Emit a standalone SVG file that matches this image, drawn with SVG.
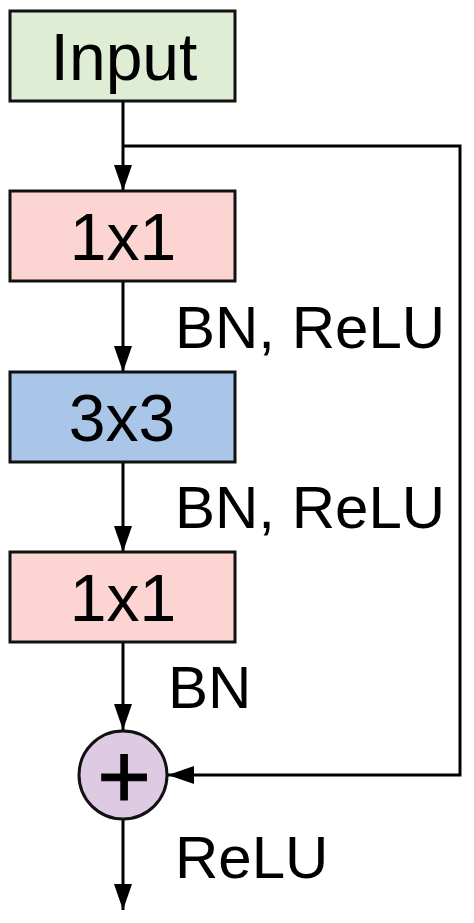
<svg xmlns="http://www.w3.org/2000/svg" width="474" height="923" viewBox="0 0 474 923">
<defs>
<marker id="ah" markerUnits="userSpaceOnUse" markerWidth="26" markerHeight="18" refX="26" refY="9" viewBox="0 0 26 18" orient="auto">
<path d="M0,0 L26,9 L0,18 Z" fill="#000"/>
</marker>
<style>
.box{stroke:#111;stroke-width:3}
.t{font-family:"Liberation Sans",Arial,sans-serif;fill:#000}
.big{font-size:66px;text-anchor:middle}
.lbl{font-size:60px}
.c{fill:none;stroke:#000;stroke-width:3}
</style>
</defs>
<rect width="474" height="923" fill="#fff"/>
<g id="connectors">
<line class="c" x1="123" y1="101" x2="123" y2="191" marker-end="url(#ah)"/>
<polyline class="c" points="123,146 460,146 460,775 168,775" marker-end="url(#ah)"/>
<line class="c" x1="123" y1="281" x2="123" y2="372" marker-end="url(#ah)"/>
<line class="c" x1="123" y1="462" x2="123" y2="552" marker-end="url(#ah)"/>
<line class="c" x1="123" y1="642" x2="123" y2="730" marker-end="url(#ah)"/>
<line class="c" x1="123" y1="820" x2="123" y2="910" marker-end="url(#ah)"/>
<text class="t lbl" x="175" y="348">BN, ReLU</text>
<text class="t lbl" x="175" y="528">BN, ReLU</text>
<text class="t lbl" x="168" y="708">BN</text>
<text class="t lbl" x="175" y="878">ReLU</text>
</g>
<g id="input">
<rect class="box" x="10" y="11" width="225" height="90" fill="#deedd4"/>
<text class="t big" x="124" y="80">Input</text>
</g>
<g id="conv1">
<rect class="box" x="10" y="191" width="225" height="90" fill="#fcd5d2"/>
<text class="t big" x="123" y="260">1x1</text>
</g>
<g id="conv2">
<rect class="box" x="10" y="372" width="225" height="90" fill="#a9c5e8"/>
<text class="t big" x="122" y="441">3x3</text>
</g>
<g id="conv3">
<rect class="box" x="10" y="552" width="225" height="90" fill="#fcd5d2"/>
<text class="t big" x="123" y="621">1x1</text>
</g>
<g id="add">
<circle class="box" cx="123" cy="775" r="44" fill="#dfcae3"/>
<text class="t" x="124" y="808" font-size="92" stroke="#000" stroke-width="1" text-anchor="middle">+</text>
</g>
</svg>
